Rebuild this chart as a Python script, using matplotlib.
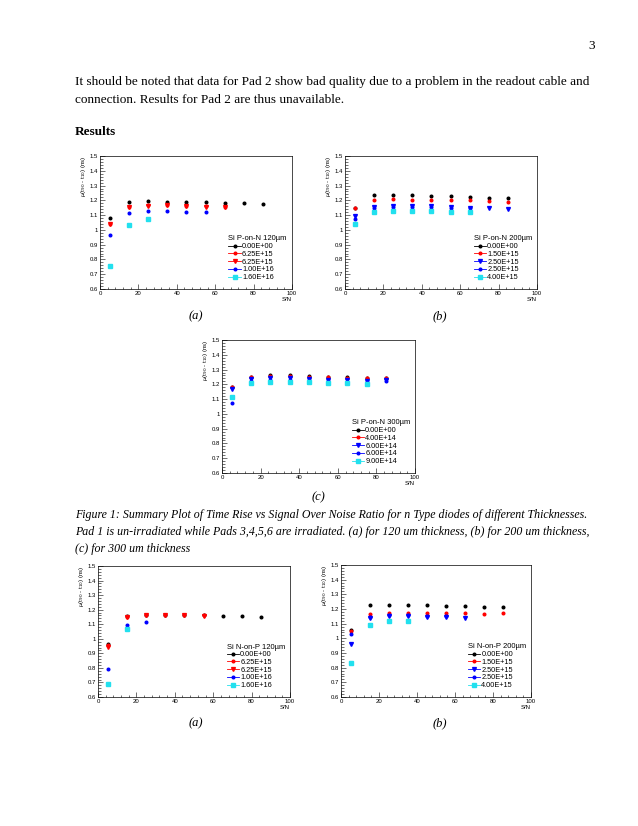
import matplotlib
matplotlib.use("Agg")
import matplotlib.pyplot as plt
from matplotlib.lines import Line2D
from matplotlib.ticker import MultipleLocator, FuncFormatter

# signal over noise bin centres
sn = [5, 15, 25, 35, 45, 55, 65, 75, 85]

# (a) Si P-on-N 120um
pn120_labels = ["0.00E+00", "6.25E+15", "6.25E+15", "1.00E+16", "1.60E+16"]
pn120_y = [
    [1.079, 1.192, 1.196, 1.192, 1.187, 1.187, 1.183, 1.180, 1.176],
    [1.043, 1.156, 1.168, 1.168, 1.164, 1.161, 1.157],
    [1.038, 1.152, 1.165, 1.166, 1.160, 1.158, 1.154],
    [0.964, 1.113, 1.126, 1.126, 1.120, 1.122],
    [0.757, 1.030, 1.075],
]
# (b) Si P-on-N 200um
pn200_labels = ["0.00E+00", "1.50E+15", "2.50E+15", "2.50E+15", "4.00E+15"]
pn200_y = [
    [1.145, 1.235, 1.237, 1.235, 1.230, 1.228, 1.221, 1.219, 1.217],
    [1.147, 1.203, 1.207, 1.205, 1.200, 1.199, 1.200, 1.194, 1.190],
    [1.095, 1.154, 1.165, 1.165, 1.163, 1.154, 1.145, 1.145, 1.140],
    [1.072, 1.145, 1.158, 1.158, 1.154, 1.150, 1.145],
    [1.041, 1.120, 1.129, 1.131, 1.129, 1.122, 1.122],
]
# (c) Si P-on-N 300um
pn300_labels = ["0.00E+00", "4.00E+14", "6.00E+14", "6.00E+14", "9.00E+14"]
pn300_y = [
    [1.185, 1.252, 1.264, 1.260, 1.255, 1.250, 1.248, 1.246, 1.244],
    [1.185, 1.250, 1.259, 1.259, 1.252, 1.248, 1.246, 1.243, 1.241],
    [1.167, 1.234, 1.241, 1.241, 1.237, 1.232, 1.230, 1.225, 1.227],
    [1.072, 1.223, 1.232, 1.232, 1.228, 1.223, 1.219, 1.216, 1.221],
    [1.117, 1.212, 1.219, 1.219, 1.214, 1.212, 1.207, 1.200],
]
# (a) Si N-on-P 120um
np120_labels = ["0.00E+00", "6.25E+15", "6.25E+15", "1.00E+16", "1.60E+16"]
np120_y = [
    [0.965, 1.157, 1.166, 1.166, 1.164, 1.162, 1.155, 1.155, 1.153],
    [0.956, 1.153, 1.162, 1.162, 1.160, 1.160],
    [0.943, 1.148, 1.164, 1.164, 1.162, 1.158],
    [0.792, 1.093, 1.116],
    [0.689, 1.066],
]
# (b) Si N-on-P 200um
np200_labels = ["0.00E+00", "1.50E+15", "2.50E+15", "2.50E+15", "4.00E+15"]
np200_y = [
    [1.056, 1.229, 1.229, 1.227, 1.224, 1.222, 1.220, 1.215, 1.215],
    [1.049, 1.165, 1.174, 1.174, 1.172, 1.170, 1.172, 1.167, 1.170],
    [0.960, 1.142, 1.151, 1.151, 1.147, 1.147, 1.138],
    [1.028, 1.147, 1.160, 1.156, 1.151, 1.151],
    [0.835, 1.092, 1.117, 1.117],
]

markers = ["o", "o", "v", "o", "s"]
msizes = [1.9, 1.9, 2.8, 1.9, 2.3]
colors_pn120 = ["black", "red", "red", "blue", "#22e0ee"]
colors_std = ["black", "red", "blue", "blue", "#22e0ee"]

fig = plt.figure(figsize=(6.38, 8.26), dpi=100)
serif = "Liberation Serif"
sans = "Liberation Sans"


def panel(rect, ys, labels, colors, title):
    ax = fig.add_axes(rect)
    for y, lab, c, m, s in zip(ys, labels, colors, markers, msizes):
        ax.errorbar(sn[:len(y)], y, yerr=0.006, fmt=m, color=c, ms=s,
                    mec=c, elinewidth=0.6, capsize=0)
    ax.set_xlim(0, 100)
    ax.set_ylim(0.6, 1.5)
    ax.xaxis.set_major_locator(MultipleLocator(20))
    ax.xaxis.set_minor_locator(MultipleLocator(4))
    ax.yaxis.set_major_locator(MultipleLocator(0.1))
    ax.yaxis.set_minor_locator(MultipleLocator(0.02))
    ax.yaxis.set_major_formatter(FuncFormatter(lambda v, p: "%g" % round(v, 2)))
    ax.tick_params(which="both", direction="in", labelsize=4.3, width=0.4,
                   top=False, right=False, pad=1.5)
    ax.tick_params(which="major", length=3.5)
    ax.tick_params(which="minor", length=1.8)
    for t in ax.get_xticklabels() + ax.get_yticklabels():
        t.set_family(sans)
    for sp in ax.spines.values():
        sp.set_linewidth(0.5)
    ax.set_xlabel("S/N", fontsize=4.3, family=sans, loc="right", labelpad=0.5)
    ax.set_ylabel(r"$\mu$(t$_{90}$ - t$_{10}$) (ns)", fontsize=4.3, family=sans,
                  loc="top", labelpad=1)
    handles = [Line2D([], [], color=c, marker=m, ms=s, lw=0.6)
               for c, m, s in zip(colors, markers, msizes)]
    ax.legend(handles, labels, title=title, loc="lower right",
              bbox_to_anchor=(1.0, 0.02), frameon=False,
              prop={"family": sans, "size": 5.3},
              title_fontproperties={"family": sans, "size": 5.5},
              alignment="left", handlelength=1.7, handletextpad=0.15,
              labelspacing=0.08, borderaxespad=0.3)
    return ax


W, H = 638.0, 826.0
panel([100 / W, 1 - 289 / H, 192 / W, 133 / H], pn120_y, pn120_labels,
      colors_pn120, "Si P-on-N 120µm")
panel([345 / W, 1 - 289 / H, 192 / W, 133 / H], pn200_y, pn200_labels,
      colors_std, "Si P-on-N 200µm")
panel([222 / W, 1 - 473 / H, 193 / W, 133 / H], pn300_y, pn300_labels,
      colors_std, "Si P-on-N 300µm")
panel([98 / W, 1 - 697 / H, 192 / W, 131 / H], np120_y, np120_labels,
      colors_pn120, "Si N-on-P 120µm")
panel([341 / W, 1 - 697 / H, 190 / W, 132 / H], np200_y, np200_labels,
      colors_std, "Si N-on-P 200µm")


def ftext(x, y, s, **kw):
    fig.text(x / W, 1 - y / H, s, family=serif, va="center", **kw)


ftext(588, 46, "3", fontsize=9.5)
ftext(75, 82, "It should be noted that data for Pad 2 show bad quality due to a problem in the readout cable and", fontsize=9.5)
ftext(75, 100, "connection. Results for Pad 2 are thus unavailable.", fontsize=9.5)
ftext(75, 132, "Results", fontsize=9.5, weight="bold")
ftext(196, 316, "(a)", fontsize=9, style="italic", ha="center")
ftext(440, 316, "(b)", fontsize=9, style="italic", ha="center")
ftext(318, 497, "(c)", fontsize=9, style="italic", ha="center")
ftext(75, 515, "Figure 1: Summary Plot of Time Rise vs Signal Over Noise Ratio for n Type diodes of different Thicknesses.", fontsize=8.6, style="italic")
ftext(75, 532, "Pad 1 is un-irradiated while Pads 3,4,5,6 are irradiated. (a) for 120 um thickness, (b) for 200 um thickness,", fontsize=8.6, style="italic")
ftext(75, 549, "(c) for 300 um thickness", fontsize=8.6, style="italic")
ftext(196, 723, "(a)", fontsize=9, style="italic", ha="center")
ftext(440, 723, "(b)", fontsize=9, style="italic", ha="center")

fig.savefig("out.png", dpi=100)
